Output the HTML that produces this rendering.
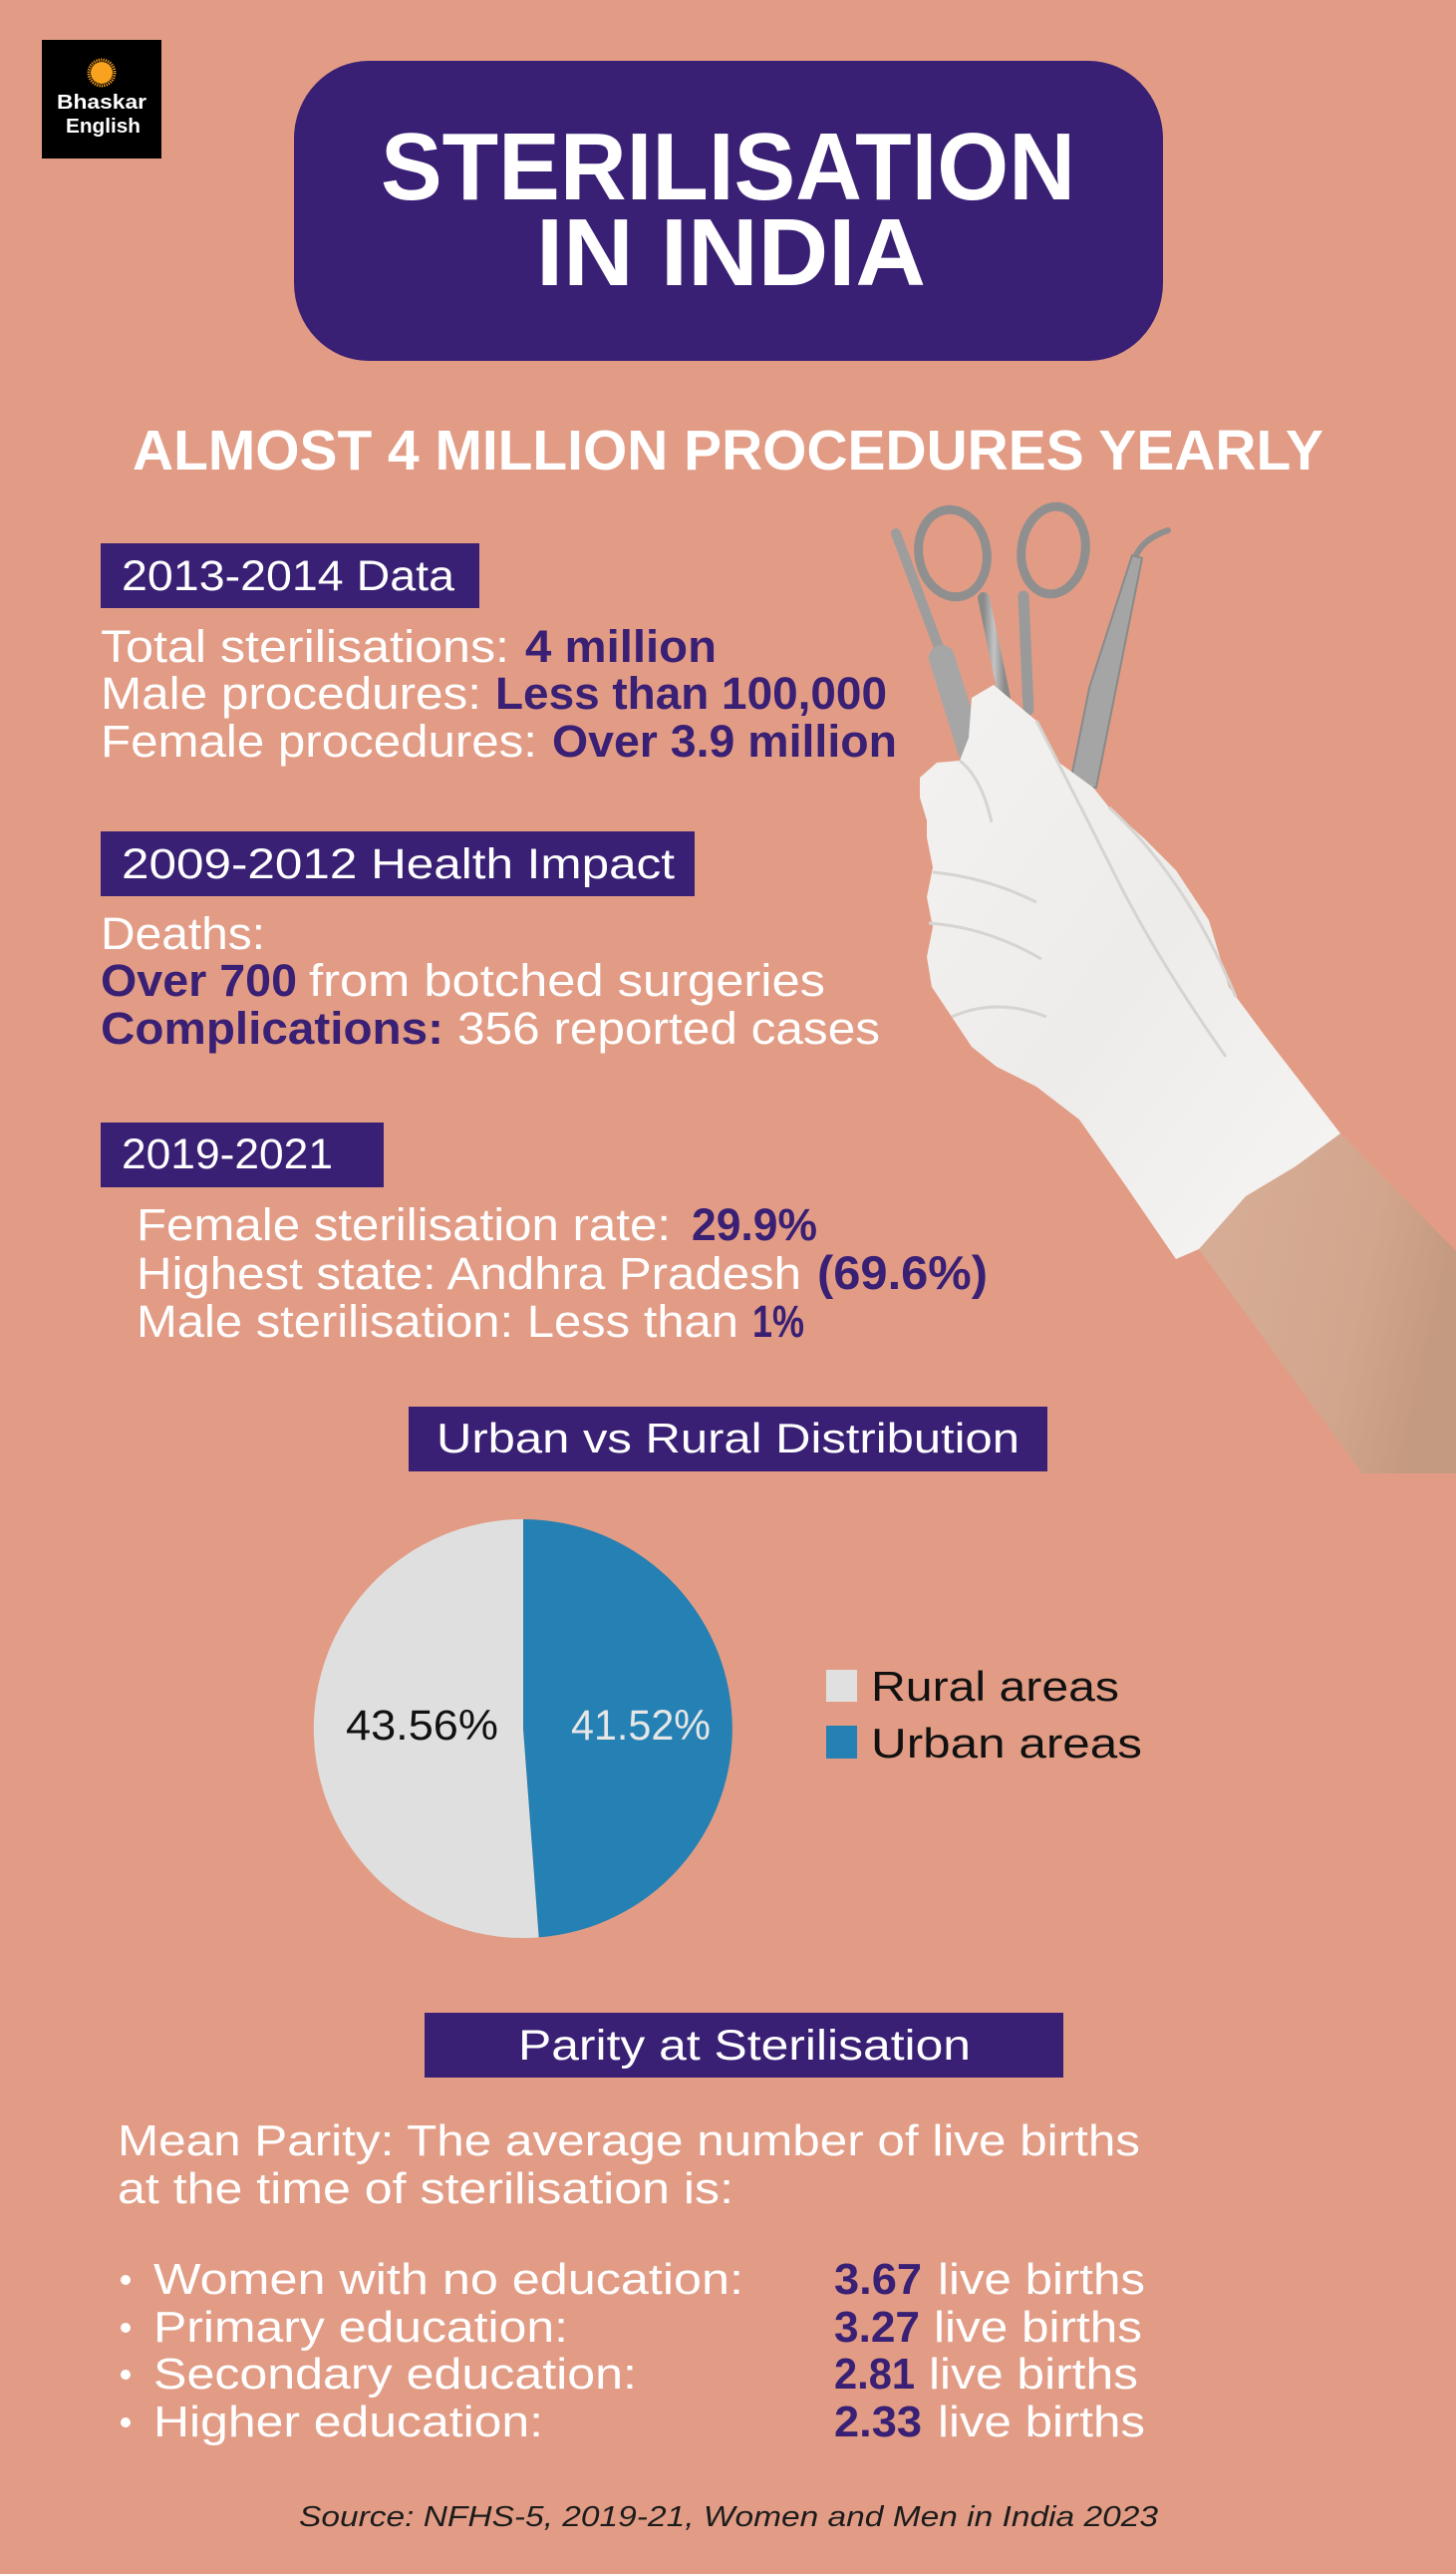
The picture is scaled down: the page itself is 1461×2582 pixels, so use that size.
<!DOCTYPE html>
<html><head><meta charset="utf-8"><style>
html,body{margin:0;padding:0;background:#e29c85;}
svg{display:block;}
text{font-family:"Liberation Sans",sans-serif;}
</style></head><body>
<svg width="1461" height="2582" viewBox="0 0 1461 2582" xmlns="http://www.w3.org/2000/svg">
<defs>
<linearGradient id="arm" x1="0" y1="0" x2="1" y2="0.3">
<stop offset="0" stop-color="#d8ae98"/><stop offset="0.7" stop-color="#d2a68d"/><stop offset="1" stop-color="#c49a80"/>
</linearGradient>
<linearGradient id="glove" x1="0" y1="0" x2="1" y2="1">
<stop offset="0" stop-color="#f3f2f0"/><stop offset="0.5" stop-color="#eeecea"/><stop offset="1" stop-color="#f6f5f3"/>
</linearGradient>
<linearGradient id="steel" x1="0" y1="0" x2="1" y2="0">
<stop offset="0" stop-color="#8a8a8a"/><stop offset="0.5" stop-color="#c4c4c4"/><stop offset="1" stop-color="#8a8a8a"/>
</linearGradient>
</defs>
<rect width="1461" height="2582" fill="#e29c85"/>

<!-- logo -->
<rect x="42" y="40" width="120" height="119" fill="#000"/>
<circle cx="102" cy="73" r="11" fill="#f8a21f"/>
<circle cx="102" cy="73" r="13" fill="none" stroke="#f8a21f" stroke-width="3" stroke-dasharray="1.2 1.2"/>
<text x="57" y="109" font-size="20" font-weight="700" fill="#fff" textLength="90" lengthAdjust="spacingAndGlyphs">Bhaskar</text>
<text x="66" y="133" font-size="20" font-weight="700" fill="#fff" textLength="75" lengthAdjust="spacingAndGlyphs">English</text>

<!-- title -->
<rect x="295" y="61" width="872" height="301" rx="75" ry="78" fill="#392074"/>
<text x="382" y="200" font-size="96" font-weight="700" fill="#fff" textLength="697" lengthAdjust="spacingAndGlyphs">STERILISATION</text>
<text x="538" y="286" font-size="96" font-weight="700" fill="#fff" textLength="391" lengthAdjust="spacingAndGlyphs">IN INDIA</text>

<text x="133" y="471" font-size="57" font-weight="700" fill="#fff" textLength="1195" lengthAdjust="spacingAndGlyphs">ALMOST 4 MILLION PROCEDURES YEARLY</text>

<!-- hand illustration -->
<g>
<polygon points="1345,1137 1461,1255 1461,1478 1367,1478 1203,1253 1250,1200 1300,1170" fill="url(#arm)"/>
<!-- instruments -->
<g fill="none" stroke-linecap="round">
<ellipse cx="956" cy="555" rx="34" ry="44" stroke="#8f8f8f" stroke-width="9" transform="rotate(-10 956 555)"/>
<ellipse cx="1057" cy="552" rx="32" ry="44" stroke="#8f8f8f" stroke-width="9" transform="rotate(8 1057 552)"/>
<line x1="987" y1="600" x2="1008" y2="700" stroke="url(#steel)" stroke-width="12"/>
<line x1="1027" y1="598" x2="1032" y2="712" stroke="#9a9a9a" stroke-width="11"/>
<line x1="899" y1="535" x2="943" y2="652" stroke="#9d9d9d" stroke-width="10"/>
<line x1="945" y1="660" x2="995" y2="820" stroke="#a6a6a6" stroke-width="26"/>
<path d="M1172,532 Q1148,540 1140,557" stroke="#8f8f8f" stroke-width="6"/>
<polygon points="1136,557 1146,560 1120,690 1100,790 1073,790 1093,690" fill="#a5a5a5" stroke="#8a8a8a" stroke-width="2"/>
</g>
<!-- glove -->
<polygon fill="url(#glove)" points="972,740 975,700 997,687 1040,723 1060,763 1097,790 1113,810 1147,840 1180,873 1213,923 1233,990 1270,1040 1345,1137 1300,1170 1250,1200 1203,1253 1180,1263 1130,1190 1083,1123 1040,1090 1000,1070 975,1050 955,1020 935,990 930,960 936,930 930,900 936,870 930,840 930,823 923,800 923,780 940,765 963,763"/>
<g fill="none" stroke="#d6d4d0" stroke-width="3">
<path d="M1040,723 Q1080,800 1120,880 Q1160,960 1230,1060"/>
<path d="M936,875 Q990,880 1040,905"/>
<path d="M932,926 Q990,930 1045,962"/>
<path d="M955,1020 Q1000,1000 1050,1020"/>
<path d="M963,763 Q985,780 995,825"/>
<path d="M1113,810 Q1190,880 1240,1000"/>
</g>
</g>

<!-- Section 1 -->
<rect x="101" y="545" width="380" height="65" fill="#392074"/>
<text x="122" y="592" font-size="43" fill="#fff" textLength="334" lengthAdjust="spacingAndGlyphs">2013-2014 Data</text>
<text x="101" y="664" font-size="45" fill="#fff" textLength="410" lengthAdjust="spacingAndGlyphs">Total sterilisations:</text>
<text x="527" y="664" font-size="45" font-weight="700" fill="#392074" textLength="192" lengthAdjust="spacingAndGlyphs">4 million</text>
<text x="101" y="711" font-size="45" fill="#fff" textLength="382" lengthAdjust="spacingAndGlyphs">Male procedures:</text>
<text x="497" y="711" font-size="45" font-weight="700" fill="#392074" textLength="393" lengthAdjust="spacingAndGlyphs">Less than 100,000</text>
<text x="101" y="759" font-size="45" fill="#fff" textLength="438" lengthAdjust="spacingAndGlyphs">Female procedures:</text>
<text x="554" y="759" font-size="45" font-weight="700" fill="#392074" textLength="346" lengthAdjust="spacingAndGlyphs">Over 3.9 million</text>

<!-- Section 2 -->
<rect x="101" y="834" width="596" height="65" fill="#392074"/>
<text x="122" y="881" font-size="43" fill="#fff" textLength="555" lengthAdjust="spacingAndGlyphs">2009-2012 Health Impact</text>
<text x="101" y="952" font-size="45" fill="#fff" textLength="165" lengthAdjust="spacingAndGlyphs">Deaths:</text>
<text x="101" y="999" font-size="45" font-weight="700" fill="#392074" textLength="197" lengthAdjust="spacingAndGlyphs">Over 700</text>
<text x="310" y="999" font-size="45" fill="#fff" textLength="518" lengthAdjust="spacingAndGlyphs">from botched surgeries</text>
<text x="101" y="1047" font-size="45" font-weight="700" fill="#392074" textLength="344" lengthAdjust="spacingAndGlyphs">Complications:</text>
<text x="459" y="1047" font-size="45" fill="#fff" textLength="424" lengthAdjust="spacingAndGlyphs">356 reported cases</text>

<!-- Section 3 -->
<rect x="101" y="1126" width="284" height="65" fill="#392074"/>
<text x="122" y="1172" font-size="43" fill="#fff" textLength="212" lengthAdjust="spacingAndGlyphs">2019-2021</text>
<text x="137" y="1244" font-size="45" fill="#fff" textLength="536" lengthAdjust="spacingAndGlyphs">Female sterilisation rate:</text>
<text x="694" y="1244" font-size="45" font-weight="700" fill="#392074" textLength="126" lengthAdjust="spacingAndGlyphs">29.9%</text>
<text x="137" y="1293" font-size="45" fill="#fff" textLength="667" lengthAdjust="spacingAndGlyphs">Highest state: Andhra Pradesh</text>
<text x="820" y="1293" font-size="47" font-weight="700" fill="#392074" textLength="171" lengthAdjust="spacingAndGlyphs">(69.6%)</text>
<text x="137" y="1341" font-size="45" fill="#fff" textLength="604" lengthAdjust="spacingAndGlyphs">Male sterilisation: Less than</text>
<text x="755" y="1341" font-size="45" font-weight="700" fill="#392074" textLength="52" lengthAdjust="spacingAndGlyphs">1%</text>

<!-- Urban vs Rural -->
<rect x="410" y="1411" width="641" height="65" fill="#392074"/>
<text x="438" y="1457" font-size="42" fill="#fff" textLength="585" lengthAdjust="spacingAndGlyphs">Urban vs Rural Distribution</text>

<path d="M525,1734 L540.7,1943.4 A210,210 0 1,1 525,1524 Z" fill="#dfdfdf"/>
<path d="M525,1734 L525,1524 A210,210 0 0,1 540.7,1943.4 Z" fill="#2580b3"/>
<text x="347" y="1745" font-size="43" fill="#111" textLength="153" lengthAdjust="spacingAndGlyphs">43.56%</text>
<text x="573" y="1745" font-size="43" fill="#e6e6e6" textLength="140" lengthAdjust="spacingAndGlyphs">41.52%</text>

<rect x="829" y="1675" width="31" height="32" fill="#e0e0e0"/>
<text x="874" y="1706" font-size="42" fill="#111" textLength="249" lengthAdjust="spacingAndGlyphs">Rural areas</text>
<rect x="829" y="1731" width="31" height="33" fill="#2580b3"/>
<text x="874" y="1763" font-size="42" fill="#111" textLength="272" lengthAdjust="spacingAndGlyphs">Urban areas</text>

<!-- Parity -->
<rect x="426" y="2019" width="641" height="65" fill="#392074"/>
<text x="520" y="2066" font-size="43" fill="#fff" textLength="454" lengthAdjust="spacingAndGlyphs">Parity at Sterilisation</text>

<text x="118" y="2162" font-size="44" fill="#fff" textLength="1026" lengthAdjust="spacingAndGlyphs">Mean Parity: The average number of live births</text>
<text x="118" y="2210" font-size="44" fill="#fff" textLength="618" lengthAdjust="spacingAndGlyphs">at the time of sterilisation is:</text>

<g fill="#fff">
<circle cx="126" cy="2287" r="5"/>
<circle cx="126" cy="2335" r="5"/>
<circle cx="126" cy="2382" r="5"/>
<circle cx="126" cy="2430" r="5"/>
</g>
<text x="154" y="2301" font-size="44" fill="#fff" textLength="592" lengthAdjust="spacingAndGlyphs">Women with no education:</text>
<text x="154" y="2349" font-size="44" fill="#fff" textLength="416" lengthAdjust="spacingAndGlyphs">Primary education:</text>
<text x="154" y="2396" font-size="44" fill="#fff" textLength="485" lengthAdjust="spacingAndGlyphs">Secondary education:</text>
<text x="154" y="2444" font-size="44" fill="#fff" textLength="391" lengthAdjust="spacingAndGlyphs">Higher education:</text>

<text x="837" y="2301" font-size="44" font-weight="700" fill="#392074" textLength="88" lengthAdjust="spacingAndGlyphs">3.67</text>
<text x="941" y="2301" font-size="44" fill="#fff" textLength="208" lengthAdjust="spacingAndGlyphs">live births</text>
<text x="837" y="2349" font-size="44" font-weight="700" fill="#392074" textLength="86" lengthAdjust="spacingAndGlyphs">3.27</text>
<text x="937" y="2349" font-size="44" fill="#fff" textLength="209" lengthAdjust="spacingAndGlyphs">live births</text>
<text x="837" y="2396" font-size="44" font-weight="700" fill="#392074" textLength="81" lengthAdjust="spacingAndGlyphs">2.81</text>
<text x="932" y="2396" font-size="44" fill="#fff" textLength="210" lengthAdjust="spacingAndGlyphs">live births</text>
<text x="837" y="2444" font-size="44" font-weight="700" fill="#392074" textLength="88" lengthAdjust="spacingAndGlyphs">2.33</text>
<text x="941" y="2444" font-size="44" fill="#fff" textLength="208" lengthAdjust="spacingAndGlyphs">live births</text>

<text x="300" y="2534" font-size="29" font-style="italic" fill="#1c1c1c" textLength="862" lengthAdjust="spacingAndGlyphs">Source: NFHS-5, 2019-21, Women and Men in India 2023</text>
</svg>
</body></html>
